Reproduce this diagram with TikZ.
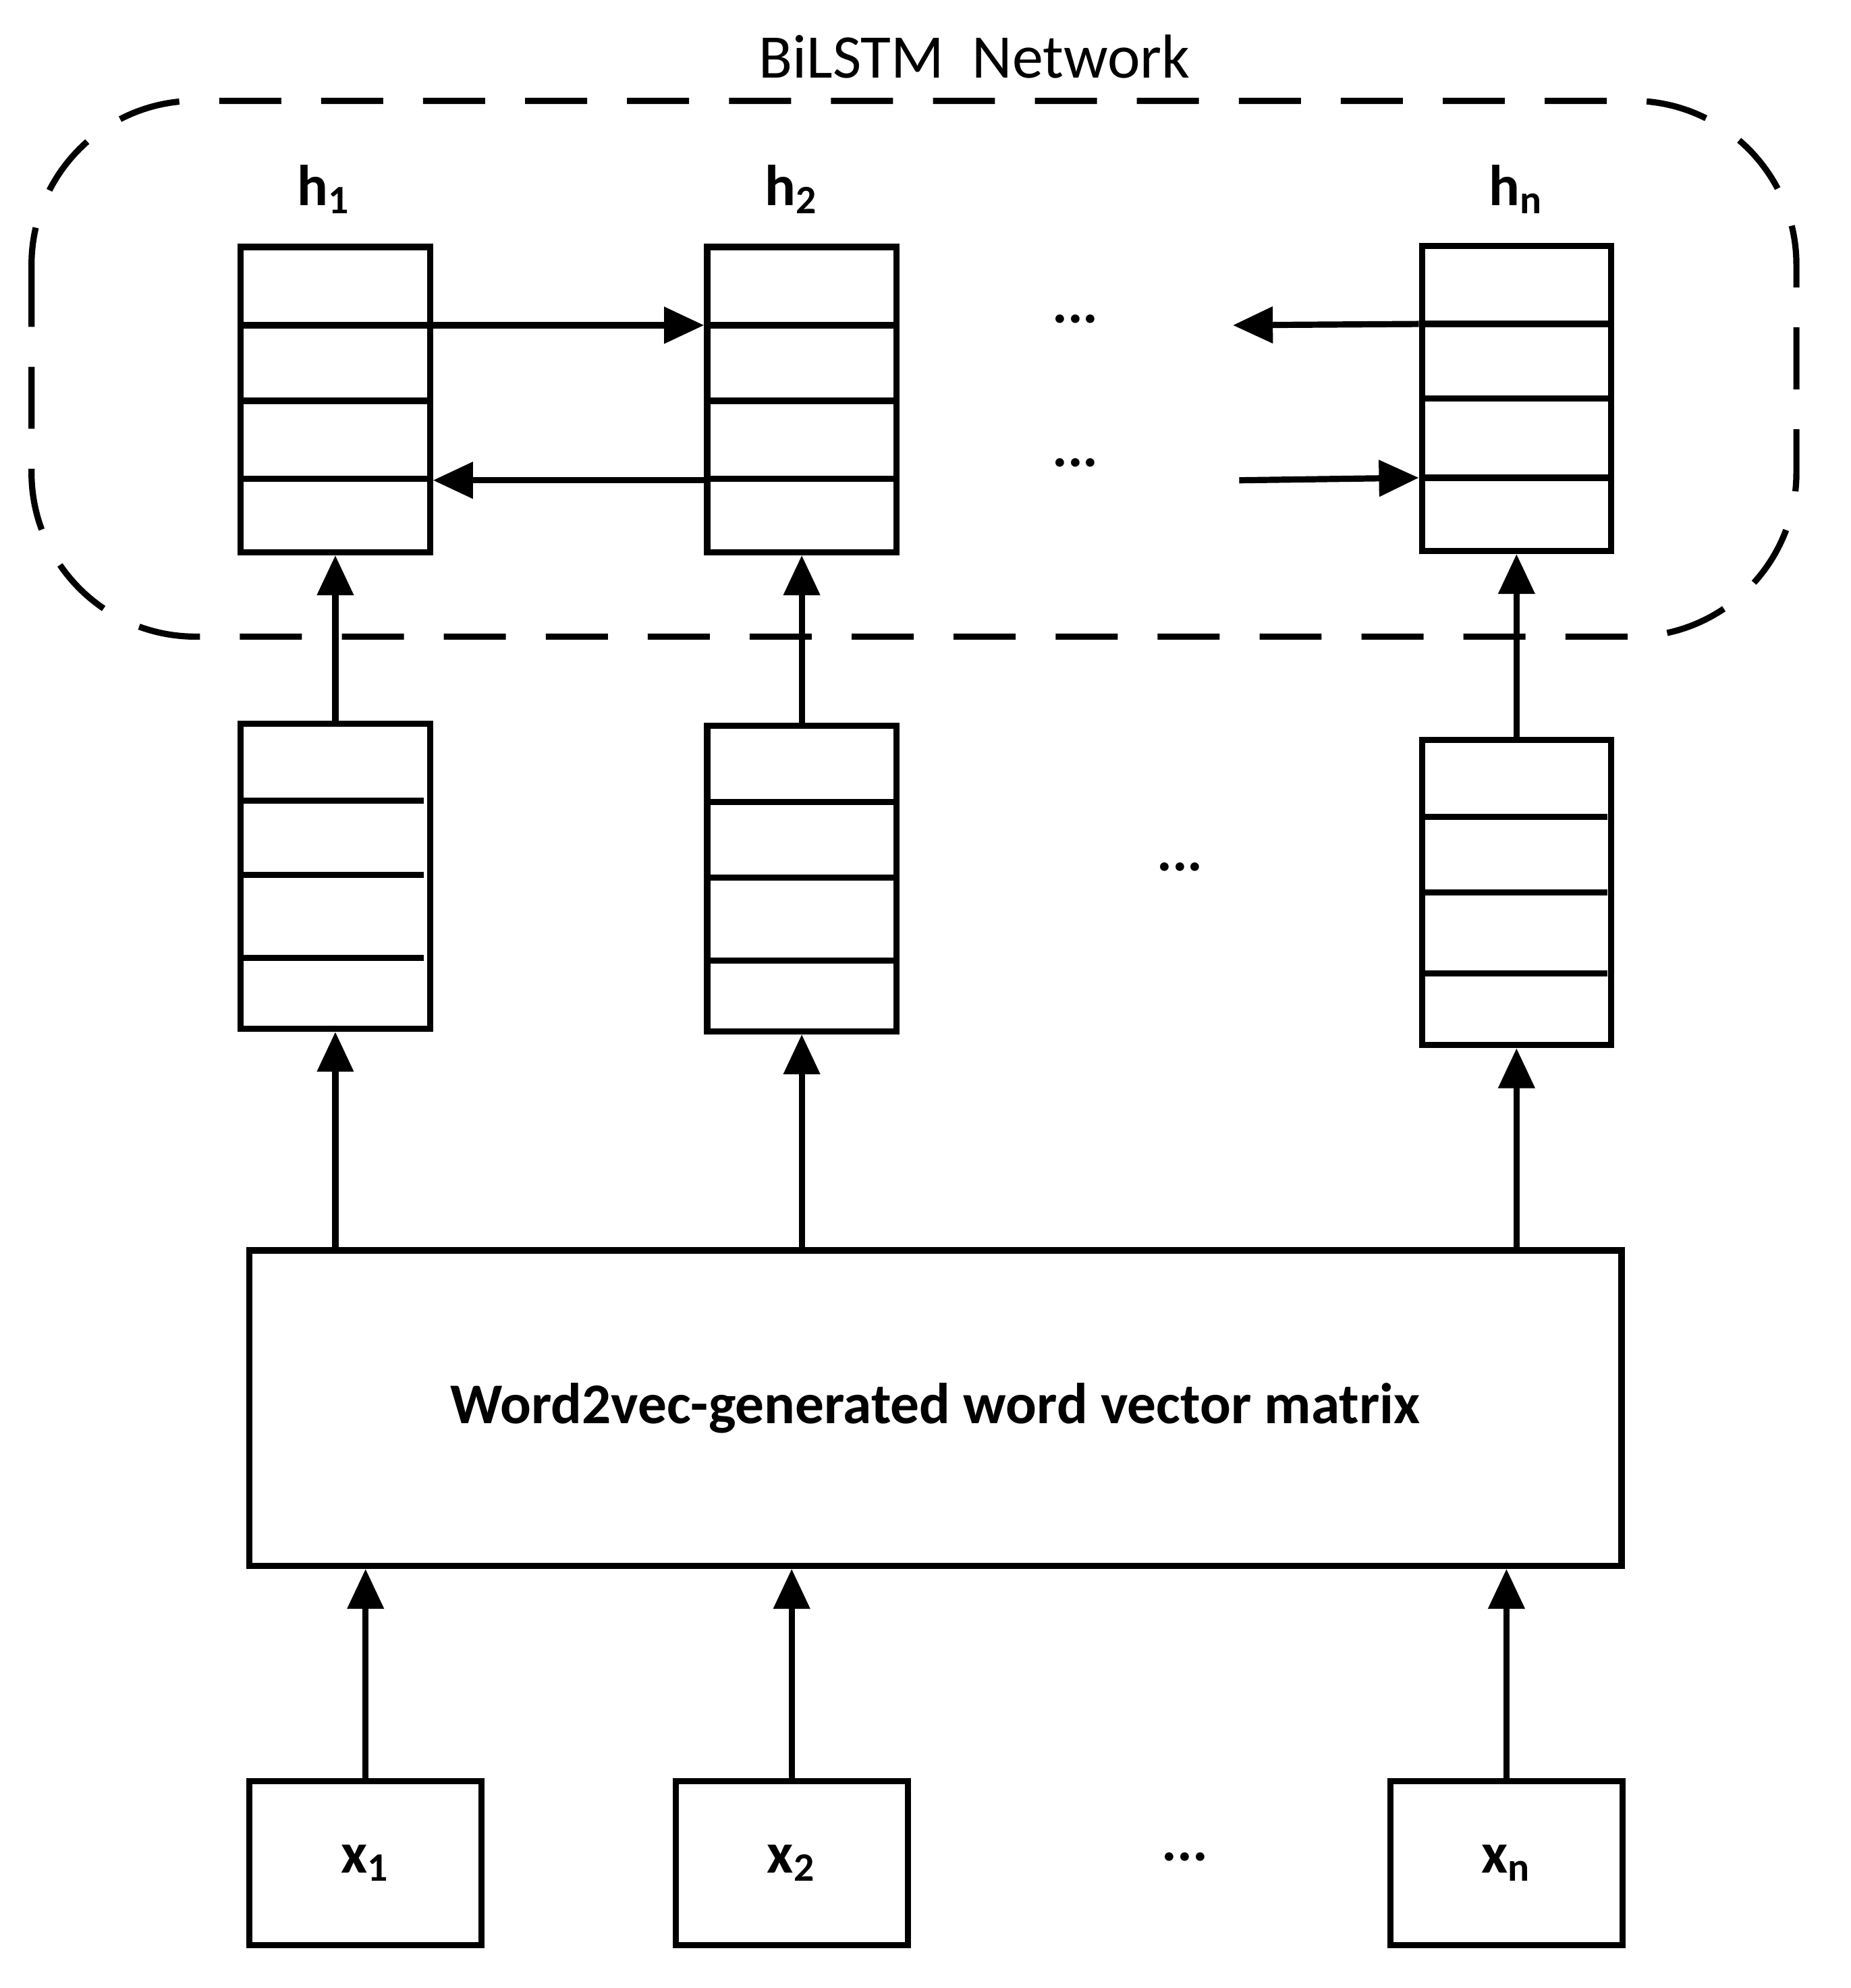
\documentclass[tikz,border=0pt]{standalone}
\usepackage{fontspec}
\setmainfont{Carlito}
\usetikzlibrary{arrows.meta}
\begin{document}
\begin{tikzpicture}[x=0.01cm,y=-0.01cm,
  line width=1.4pt,
  box/.style={draw,minimum width=1.5cm,minimum height=2.42cm,inner sep=0pt},
  xbox/.style={draw,minimum width=1.84cm,minimum height=1.3cm,inner sep=0pt,font=\fontsize{13}{15}\selectfont\bfseries},
  lbl/.style={font=\fontsize{13}{15}\selectfont\bfseries},
  arr/.style={-{Triangle[length=9pt,width=8pt]}}]
\useasboundingbox (0,0) rectangle (1468,1577);
% title and dashed frame
\node[font=\fontsize{14}{16}\selectfont] (title) at (773,45) {BiLSTM\ \ Network};
\draw[dash pattern=on 14pt off 9pt,rounded corners=1.3cm] (25,80) rectangle (1425,505);
% top row
\node[box] (t1) at (266,317) {};
\node[box] (t2) at (636,317) {};
\node[box] (t3) at (1203,316) {};
\foreach \y in {258,318,380}{
  \draw (191,\y) -- (341,\y);
  \draw (561,\y) -- (711,\y);}
\foreach \y in {257,316,379} \draw (1128,\y) -- (1278,\y);
\node[lbl] (h1) at (257,150) {h\textsubscript{1}};
\node[lbl] (h2) at (628,150) {h\textsubscript{2}};
\node[lbl] (h3) at (1203,150) {h\textsubscript{n}};
\node[lbl] (d1) at (853,253) {...};
\node[lbl] (d2) at (853,367) {...};
\coordinate (fl) at (978,258);
\coordinate (fr) at (983,381);
\draw[arr] (t1.east |- 0,258) -- (t2.west |- 0,258);
\draw[arr] (t2.west |- 0,381) -- (t1.east |- 0,381);
\draw[arr] (t3.west |- 0,257) -- (fl);
\draw[arr] (fr) -- (t3.west |- 0,379);
% middle row
\node[box] (m1) at (266,695) {};
\node[box] (m2) at (636,697) {};
\node[box] (m3) at (1203,708) {};
\foreach \y in {635,694,760} \draw (191,\y) -- (336,\y);
\foreach \y in {636,696,762} \draw (561,\y) -- (711,\y);
\foreach \y in {648,708,772} \draw (1128,\y) -- (1275,\y);
\node[lbl] (d3) at (936,688) {...};
\draw[arr] (m1.north) -- (t1.south);
\draw[arr] (m2.north) -- (t2.south);
\draw[arr] (m3.north) -- (t3.south);
% word vector box
\node[draw,minimum width=10.88cm,minimum height=2.5cm,inner sep=0pt,lbl] (w) at (742,1117) {Word2vec-generated word vector matrix};
\draw[arr] (w.north -| m1) -- (m1.south);
\draw[arr] (w.north -| m2) -- (m2.south);
\draw[arr] (w.north -| m3) -- (m3.south);
% inputs
\node[xbox] (x1) at (290,1478) {x\textsubscript{1}};
\node[xbox] (x2) at (628,1478) {x\textsubscript{2}};
\node[xbox] (x3) at (1195,1478) {x\textsubscript{n}};
\node[lbl] (d4) at (940,1473) {...};
\draw[arr] (x1.north) -- (w.south -| x1);
\draw[arr] (x2.north) -- (w.south -| x2);
\draw[arr] (x3.north) -- (w.south -| x3);
\end{tikzpicture}
\end{document}
